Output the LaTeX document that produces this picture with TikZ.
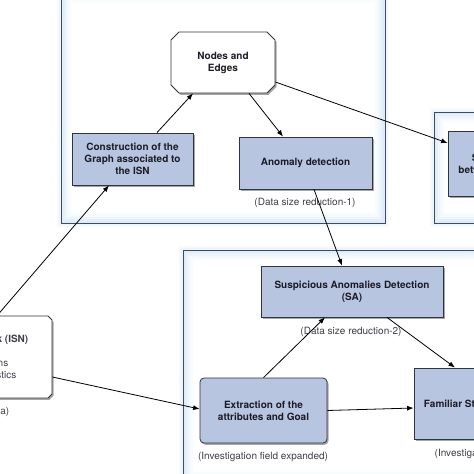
\documentclass[tikz,border=0pt]{standalone}
\usepackage{fontspec}
\setmainfont{TeX Gyre Heros}
\usetikzlibrary{arrows.meta,shapes.misc,shadows,calc}
\definecolor{boxfill}{HTML}{B8C5E0}
\definecolor{boxline}{HTML}{2E3440}
\definecolor{frameline}{HTML}{3E4E60}
\definecolor{glow}{HTML}{D6E8F6}
\definecolor{txt}{HTML}{1C1C28}
\newcommand{\frameglow}[4]{%
  \foreach \d/\c in {4/20,2/45,0/85,-2/65,-4/45,-6/28,-8/14,-10/5,-12/0}{%
    \fill[glow!\c!white] ({#1-(\d)},{#2-(\d)}) rectangle ({#3+(\d)},{#4+(\d)});}
  \draw[frameline, line width=0.9pt] (#1,#2) rectangle (#3,#4);}
\begin{document}
\begin{tikzpicture}[x=1pt,y=-1pt,
  font=\fontsize{10}{12}\selectfont,
  shade/.style={drop shadow={shadow xshift=1.5pt,shadow yshift=-1.8pt,opacity=0.35,fill=black}},
  bluebox/.style={rectangle, draw=boxline, line width=0.8pt, fill=boxfill, shade,
    align=center, inner sep=2pt, text=txt, font=\fontsize{10}{12}\selectfont\bfseries},
  whitebox/.style={chamfered rectangle, chamfered rectangle xsep=4pt, chamfered rectangle ysep=4pt,
    draw=boxline, line width=0.8pt, fill=white, shade,
    align=center, inner sep=2pt, text=txt, font=\fontsize{10}{12}\selectfont\bfseries},
  lab/.style={inner sep=0pt, text=txt!85, font=\fontsize{10}{12}\selectfont},
  arr/.style={-{Latex[length=6.5pt,width=5pt]}, line width=0.8pt, black}]
\useasboundingbox (0,0) rectangle (474,474);
\fill[white] (0,0) rectangle (474,474);
% containers
\frameglow{61}{-8}{385}{223}
\frameglow{434}{112}{560}{223}
\frameglow{183}{250}{560}{482}
% nodes
\node[whitebox, minimum width=104pt, minimum height=61pt] (nodes) at (223,62.5) {Nodes and\\Edges};
\node[bluebox, minimum width=121pt, minimum height=52pt] (constr) at (132.5,159) {Construction of the\\Graph associated to\\the ISN};
\node[bluebox, minimum width=133pt, minimum height=52pt] (anom) at (305.5,163) {Anomaly detection};
\node[bluebox, minimum width=93pt, minimum height=65pt] (simil) at (494.5,163.5) {Similarity\\between nodes};
\node[bluebox, minimum width=182pt, minimum height=51pt] (sa) at (352,291.5) {Suspicious Anomalies Detection\\(SA)};
\node[bluebox, rounded corners=4pt, minimum width=127pt, minimum height=65pt] (extr) at (263.5,410.5) {Extraction of the\\attributes and Goal};
\node[bluebox, minimum width=111pt, minimum height=71pt] (famil) at (469.5,403.5) {Familiar Structures};
\node[whitebox, minimum width=142pt, minimum height=82pt] (isn) at (-19,357) {};
% ISN texts
\node[lab, anchor=east, font=\fontsize{10}{12}\selectfont\bfseries] (isnt) at (28.5,340) {Social Network (ISN)};
\node[lab, anchor=east] (isnr) at (8.5,363) {Relations};
\node[lab, anchor=east] (isnc) at (16.5,375) {Characteristics};
% labels
\node[lab] (lab1) at (305,202.5) {(Data size reduction-1)};
\node[lab] (lab2) at (351,332) {(Data size reduction-2)};
\node[lab] (lab3) at (263,457) {(Investigation field expanded)};
\node[lab, anchor=west] (lab4) at (434.5,454) {(Investigation field reduced)};
\node[lab, anchor=east] (lab5) at (9.5,412) {(Raw data)};
% connectors
\draw[arr] ([xshift=-55pt]isn.north east) -- ([xshift=-23.5pt]constr.south);
\draw[arr] ([xshift=24.5pt]constr.north) -- ([xshift=-30pt]nodes.south);
\draw[arr] ([xshift=26pt]nodes.south) -- ([xshift=-22.5pt]anom.north);
\draw[arr] ([yshift=-19.5pt]nodes.east) -- ([yshift=20.5pt]simil.west);
\draw[arr] ([xshift=8.5pt]anom.south) -- ([xshift=-10pt]sa.north);
\draw[arr] (extr.north) -- ([xshift=-27pt]sa.south);
\draw[arr] ([xshift=35pt]sa.south) -- ([xshift=-14.5pt]famil.north);
\draw[arr] ([yshift=-20pt]isn.east) -- ([yshift=1.5pt]extr.west);
\draw[arr] (extr.east) -- ([yshift=-4.5pt]famil.west);
\end{tikzpicture}
\end{document}
